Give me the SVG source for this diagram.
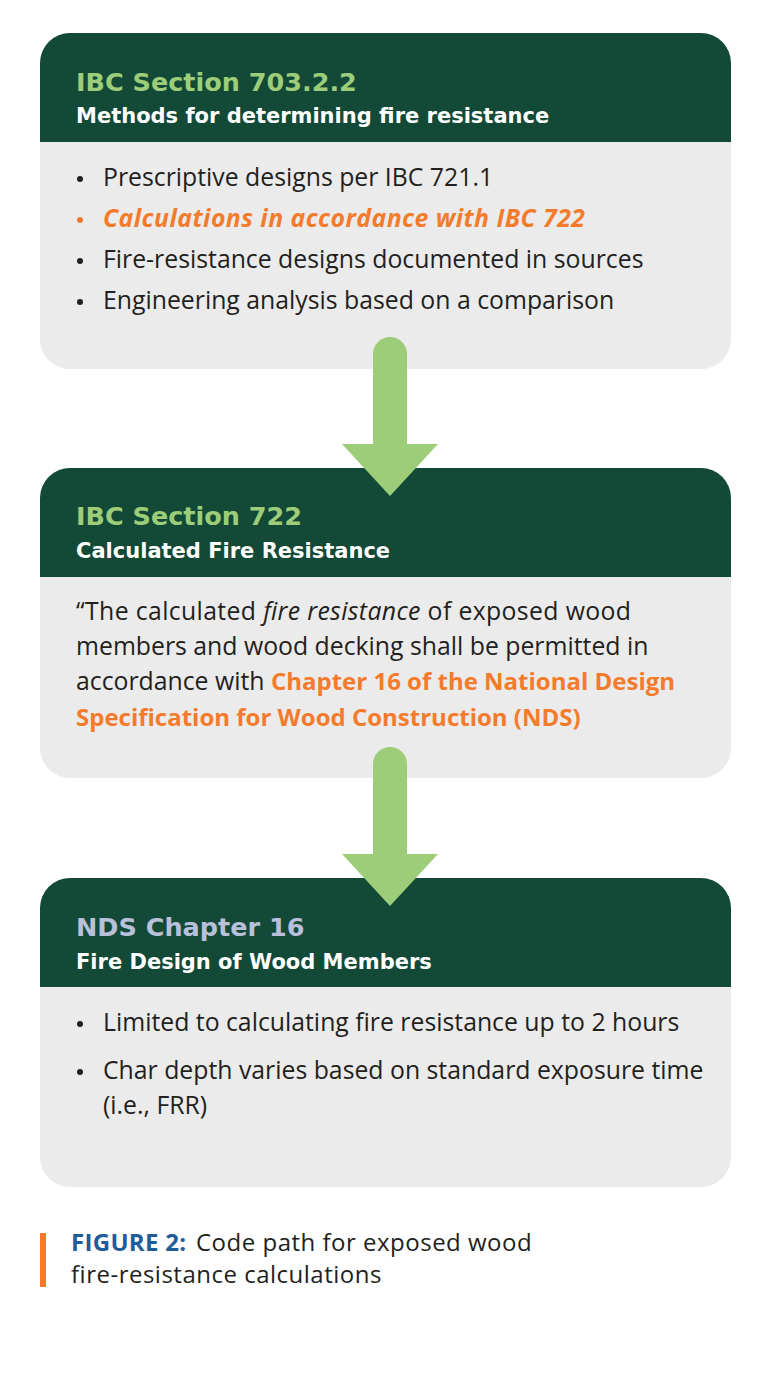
<svg xmlns="http://www.w3.org/2000/svg" width="768" height="1382" viewBox="0 0 768 1382">
<style>
.hdr{fill:#134a37}
.body{fill:#ebebeb}
.ttl{font-family:"DejaVu Sans",sans-serif;font-weight:bold;font-size:25.5px;fill:#9dcd79}
.ttl2{fill:#b9c0da}
.sub{font-family:"DejaVu Sans",sans-serif;font-weight:bold;font-size:21px;fill:#ffffff}
.txt{font-family:"Open Sans",sans-serif;font-size:24.8px;fill:#231f20}
.org{fill:#f47b2b;font-weight:bold}
.ob{font-size:24px}
.dot{fill:#231f20}
.arrow{fill:#9dcd79}
.cap{font-family:"Open Sans",sans-serif;font-size:24px;letter-spacing:0.5px;fill:#231f20}
.capb{font-weight:bold;fill:#1f5d99;letter-spacing:0.3px}
</style>
<rect width="768" height="1382" fill="#ffffff"/>
<g id="node1">
<path class="body" d="M40,142 H731 V339 A30,30 0 0 1 701,369 H70 A30,30 0 0 1 40,339 Z"/>
<path class="hdr" d="M40,142 V63 A30,30 0 0 1 70,33 H701 A30,30 0 0 1 731,63 V142 Z"/>
<text class="ttl" x="76" y="91">IBC Section 703.2.2</text>
<text class="sub" x="76" y="123">Methods for determining fire resistance</text>
<circle class="dot" cx="80" cy="179" r="3"/>
<text class="txt" x="103" y="186">Prescriptive designs per IBC 721.1</text>
<circle cx="80" cy="220" r="3" fill="#f47b2b"/>
<text class="txt org" x="103" y="227" font-style="italic" textLength="482" lengthAdjust="spacing">Calculations in accordance with IBC 722</text>
<circle class="dot" cx="80" cy="261" r="3"/>
<text class="txt" x="103" y="268">Fire-resistance designs documented in sources</text>
<circle class="dot" cx="80" cy="302" r="3"/>
<text class="txt" x="103" y="309">Engineering analysis based on a comparison</text>
</g>
<g id="node2">
<path class="body" d="M40,577 H731 V748 A30,30 0 0 1 701,778 H70 A30,30 0 0 1 40,748 Z"/>
<path class="hdr" d="M40,577 V498 A30,30 0 0 1 70,468 H701 A30,30 0 0 1 731,498 V577 Z"/>
<text class="ttl" x="76" y="525">IBC Section 722</text>
<text class="sub" x="76" y="558">Calculated Fire Resistance</text>
<text class="txt" x="76" y="620" textLength="555" lengthAdjust="spacing">“The calculated <tspan font-style="italic">fire resistance</tspan> of exposed wood</text>
<text class="txt" x="76" y="655">members and wood decking shall be permitted in</text>
<text class="txt" x="76" y="690">accordance with <tspan class="org ob">Chapter 16 of the National Design</tspan></text>
<text class="txt org ob" x="76" y="726">Specification for Wood Construction (NDS)</text>
</g>
<g id="node3">
<path class="body" d="M40,987 H731 V1157 A30,30 0 0 1 701,1187 H70 A30,30 0 0 1 40,1157 Z"/>
<path class="hdr" d="M40,987 V908 A30,30 0 0 1 70,878 H701 A30,30 0 0 1 731,908 V987 Z"/>
<text class="ttl ttl2" x="76" y="936">NDS Chapter 16</text>
<text class="sub" x="76" y="969">Fire Design of Wood Members</text>
<circle class="dot" cx="80" cy="1024" r="3"/>
<text class="txt" x="103" y="1031">Limited to calculating fire resistance up to 2 hours</text>
<circle class="dot" cx="80" cy="1072" r="3"/>
<text class="txt" x="103" y="1079">Char depth varies based on standard exposure time</text>
<text class="txt" x="103" y="1114">(i.e., FRR)</text>
</g>
<g id="connectors">
<path class="arrow" d="M373,354 A17,17 0 0 1 407,354 L407,444 L438,444 L390,496 L342,444 L373,444 Z"/>
<path class="arrow" d="M373,764 A17,17 0 0 1 407,764 L407,854 L438,854 L390,906 L342,854 L373,854 Z"/>
</g>
<g id="caption">
<rect x="40" y="1233" width="6" height="54" fill="#f47b2b"/>
<text class="cap capb" x="71" y="1251">FIGURE 2:</text>
<text class="cap" x="196" y="1251">Code path for exposed wood</text>
<text class="cap" x="71" y="1283">fire-resistance calculations</text>
</g>
</svg>
